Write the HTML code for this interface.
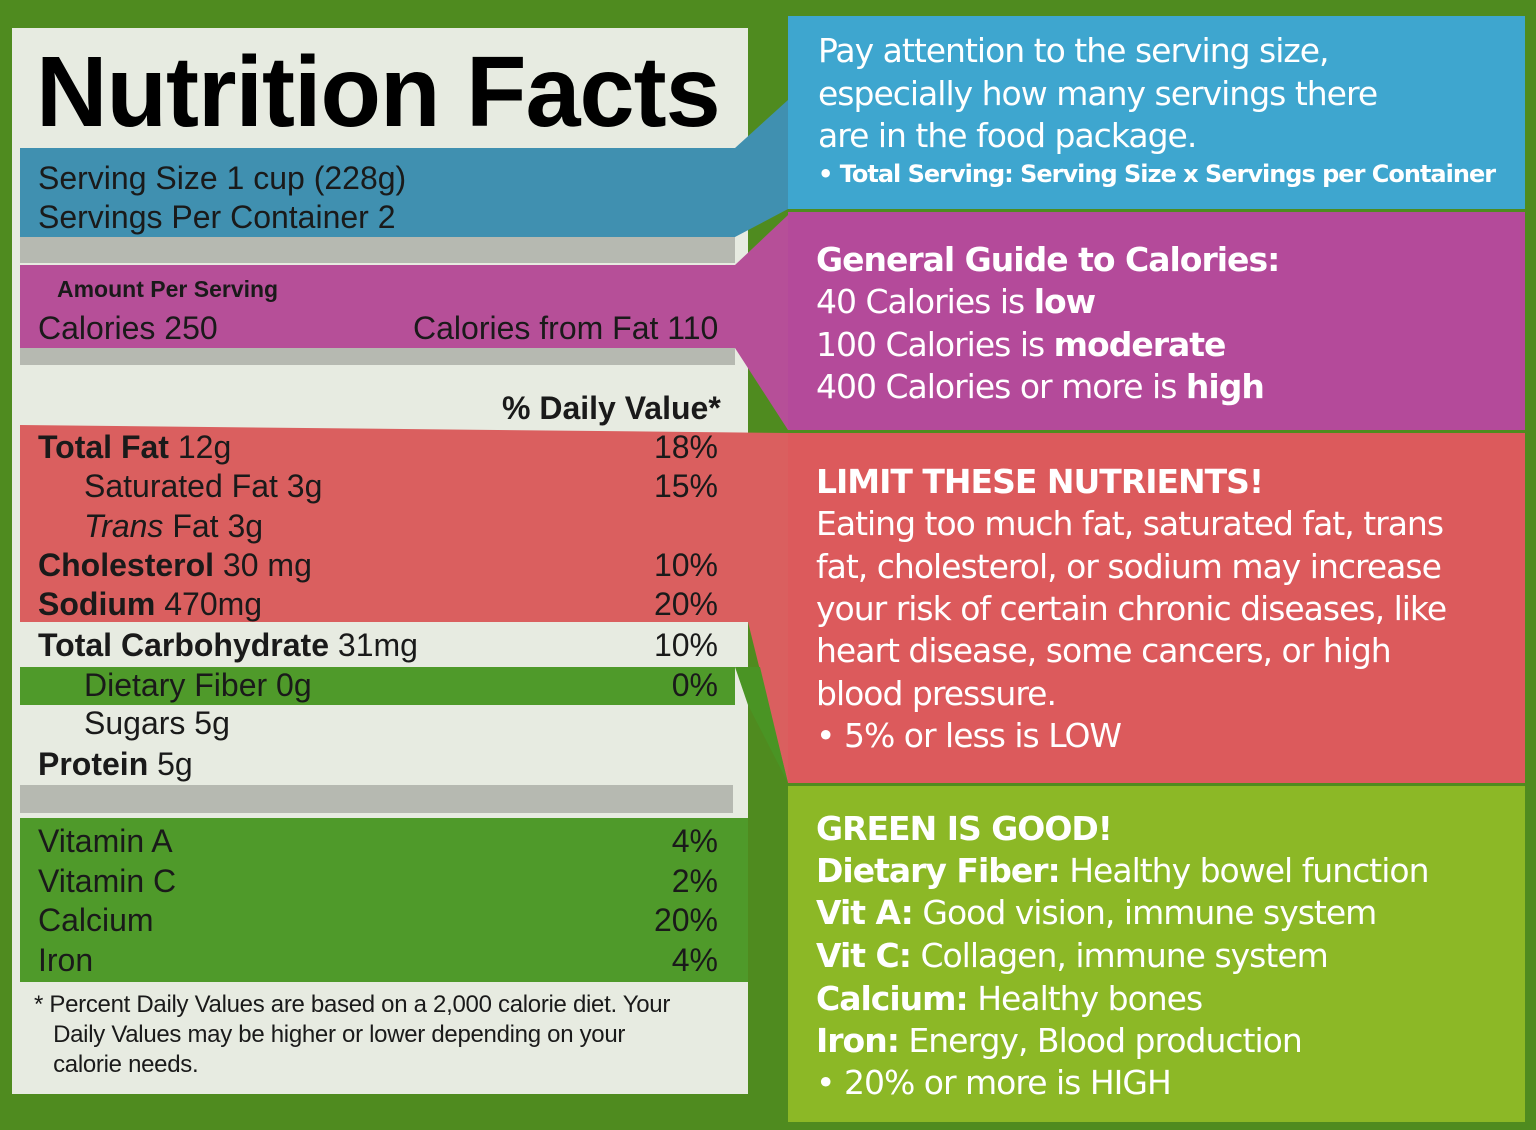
<!DOCTYPE html>
<html><head><meta charset="utf-8"><style>
body{margin:0;width:1536px;height:1130px;overflow:hidden;background:#4d8a20;position:relative;font-family:"Liberation Sans",sans-serif}
.t{position:absolute;white-space:nowrap;color:#1a1a1a;line-height:1}
.r{position:absolute;white-space:nowrap;color:#fff;line-height:1;font-size:33px;font-family:"DejaVu Sans","Liberation Sans",sans-serif;letter-spacing:-1px}
b{font-weight:bold}
</style></head><body>
<svg width="1536" height="1130" style="position:absolute;left:0;top:0">
<rect x="0" y="0" width="1536" height="1130" fill="#4f8b1f"/>
<rect x="12" y="28" width="736" height="1066" fill="#e7ebe1"/>
<rect x="788" y="16" width="737" height="193" fill="#3ea6cf"/>
<rect x="788" y="212" width="737" height="218" fill="#b44a9a"/>
<rect x="788" y="433" width="737" height="350" fill="#dc5a5c"/>
<rect x="788" y="786" width="737" height="336" fill="#8cb826"/>
<polygon points="20,148 735,148 788,100 788,209 735,237 20,237" fill="#4090b0"/>
<rect x="20" y="237" width="715" height="26" fill="#b6b9b1"/>
<polygon points="20,265 735,265 788,215 788,430 735,348 20,348" fill="#b64f98"/>
<rect x="20" y="348" width="715" height="17" fill="#b6b9b1"/>
<polygon points="20,425 788,433 788,783 748,622 20,622" fill="#da5f5f"/>
<polygon points="735,667 760,667 788,783 748,705" fill="#4a9424"/>
<rect x="20" y="667" width="715" height="38" fill="#4f9a2a"/>
<rect x="20" y="785" width="713" height="28" fill="#b6b9b1"/>
<rect x="20" y="818" width="728" height="164" fill="#4f9a2a"/>
</svg>
<div class="t" style="left:36px;top:42px;font-size:100px;font-weight:bold;color:#000;transform:scaleX(0.99);transform-origin:left top;letter-spacing:-1px">Nutrition Facts</div>
<div class="t" style="left:38px;top:162px;font-size:32px">Serving Size 1 cup (228g)</div>
<div class="t" style="left:38px;top:201px;font-size:32px">Servings Per Container 2</div>
<div class="t" style="left:57px;top:278px;font-size:23px;font-weight:bold">Amount Per Serving</div>
<div class="t" style="left:38px;top:312px;font-size:32px">Calories 250</div>
<div class="t" style="left:413px;top:312px;font-size:32px">Calories from Fat 110</div>
<div class="t" style="left:502px;top:392px;font-size:32px;font-weight:bold">% Daily Value*</div>
<div class="t" style="left:38px;top:431px;font-size:32px"><b>Total Fat</b> 12g</div>
<div class="t" style="left:84px;top:470px;font-size:32px">Saturated Fat 3g</div>
<div class="t" style="left:84px;top:510px;font-size:32px"><i>Trans</i> Fat 3g</div>
<div class="t" style="left:38px;top:549px;font-size:32px"><b>Cholesterol</b> 30 mg</div>
<div class="t" style="left:38px;top:588px;font-size:32px"><b>Sodium</b> 470mg</div>
<div class="t" style="left:38px;top:629px;font-size:32px"><b>Total Carbohydrate</b> 31mg</div>
<div class="t" style="left:84px;top:669px;font-size:32px">Dietary Fiber 0g</div>
<div class="t" style="left:84px;top:707px;font-size:32px">Sugars 5g</div>
<div class="t" style="left:38px;top:748px;font-size:32px"><b>Protein</b> 5g</div>
<div class="t" style="right:818px;top:431px;font-size:32px">18%</div>
<div class="t" style="right:818px;top:470px;font-size:32px">15%</div>
<div class="t" style="right:818px;top:549px;font-size:32px">10%</div>
<div class="t" style="right:818px;top:588px;font-size:32px">20%</div>
<div class="t" style="right:818px;top:629px;font-size:32px">10%</div>
<div class="t" style="right:818px;top:669px;font-size:32px">0%</div>
<div class="t" style="left:38px;top:825px;font-size:32px">Vitamin A</div>
<div class="t" style="left:38px;top:865px;font-size:32px">Vitamin C</div>
<div class="t" style="left:38px;top:904px;font-size:32px">Calcium</div>
<div class="t" style="left:38px;top:944px;font-size:32px">Iron</div>
<div class="t" style="right:818px;top:825px;font-size:32px">4%</div>
<div class="t" style="right:818px;top:865px;font-size:32px">2%</div>
<div class="t" style="right:818px;top:904px;font-size:32px">20%</div>
<div class="t" style="right:818px;top:944px;font-size:32px">4%</div>
<div class="t" style="left:34px;top:990px;font-size:24px;line-height:30px;white-space:normal;width:710px;letter-spacing:-0.3px">* Percent Daily Values are based on a 2,000 calorie diet. Your<br>&nbsp;&nbsp;&nbsp;Daily Values may be higher or lower depending on your<br>&nbsp;&nbsp;&nbsp;calorie needs.</div>

<div class="r" style="left:818px;top:34px">Pay attention to the serving size,</div>
<div class="r" style="left:818px;top:77px">especially how many servings there</div>
<div class="r" style="left:818px;top:119px">are in the food package.</div>
<div class="r" style="left:818px;top:162px;font-size:24px;font-weight:bold">• Total Serving: Serving Size x Servings per Container</div>

<div class="r" style="left:816px;top:243px;font-weight:bold">General Guide to Calories:</div>
<div class="r" style="left:816px;top:285px">40 Calories is <b>low</b></div>
<div class="r" style="left:816px;top:328px">100 Calories is <b>moderate</b></div>
<div class="r" style="left:816px;top:370px">400 Calories or more is <b>high</b></div>

<div class="r" style="left:816px;top:465px;font-weight:bold">LIMIT THESE NUTRIENTS!</div>
<div class="r" style="left:816px;top:507px">Eating too much fat, saturated fat, trans</div>
<div class="r" style="left:816px;top:550px">fat, cholesterol, or sodium may increase</div>
<div class="r" style="left:816px;top:592px">your risk of certain chronic diseases, like</div>
<div class="r" style="left:816px;top:634px">heart disease, some cancers, or high</div>
<div class="r" style="left:816px;top:677px">blood pressure.</div>
<div class="r" style="left:816px;top:719px">• 5% or less is LOW</div>

<div class="r" style="left:816px;top:812px;font-weight:bold">GREEN IS GOOD!</div>
<div class="r" style="left:816px;top:854px"><b>Dietary Fiber:</b> Healthy bowel function</div>
<div class="r" style="left:816px;top:896px"><b>Vit A:</b> Good vision, immune system</div>
<div class="r" style="left:816px;top:939px"><b>Vit C:</b> Collagen, immune system</div>
<div class="r" style="left:816px;top:982px"><b>Calcium:</b> Healthy bones</div>
<div class="r" style="left:816px;top:1024px"><b>Iron:</b> Energy, Blood production</div>
<div class="r" style="left:816px;top:1066px">• 20% or more is HIGH</div>
</body></html>
